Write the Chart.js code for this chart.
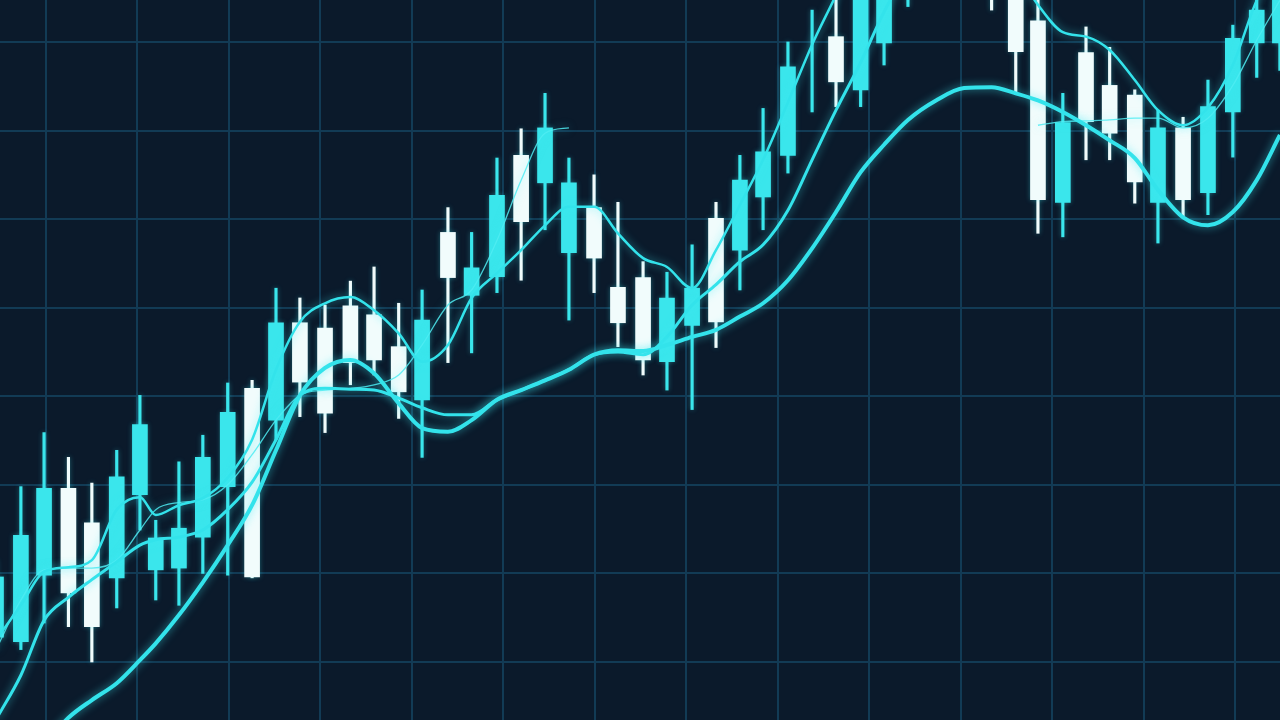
<!DOCTYPE html>
<html>
<head>
<meta charset="utf-8">
<script src="https://cdn.jsdelivr.net/npm/chart.js@4.4.1/dist/chart.umd.min.js"></script>
<style>
  html, body { margin: 0; padding: 0; background: #0b1a2b; overflow: hidden; }
  canvas { display: block; }
</style>
</head>
<body>
<canvas id="c" width="1280" height="720"></canvas>
<script>
// ---- data ----
const times = [-2.05, -1.03, -0.08, 0.92, 1.88, 2.90, 3.85, 4.50, 5.45, 6.43,
  7.45, 8.45, 9.43, 10.41, 11.44, 12.48, 13.45, 14.46, 15.42, 16.48,
  17.45, 18.49, 19.48, 20.46, 21.44, 22.47, 23.45, 24.48, 25.46, 26.49,
  27.47, 28.45, 29.40, 30.42, 31.41, 32.39, 33.40, 34.36, 35.34, 36.49,
  37.64, 38.77, 39.76, 40.67, 41.69, 42.64, 43.61, 44.64, 45.59, 46.62,
  47.64, 48.66, 49.64, 50.59];

const open = [112.8, 112.3, 119.8, 129.6, 125.7, 119.5, 128.9, 120.4, 120.6, 124.1,
  129.8, 140.9, 137.3, 148.3, 147.7, 150.2, 149.2, 145.6, 139.6, 158.5,
  151.4, 153.5, 167.2, 164.1, 156.2, 161.3, 152.3, 153.4, 143.9, 148.0,
  160.1, 156.5, 162.5, 167.2, 179.1, 180.6, 174.6, 179.9, 187.0, 194.9,
  191.5, 192.6, 189.3, 182.4, 161.9, 178.8, 175.1, 174.0, 161.9, 170.3,
  163.0, 172.1, 179.9, 179.9];

const high = [121.5, 129.8, 135.9, 133.1, 130.2, 133.9, 140.1, 126.0, 132.6, 135.6,
  141.5, 141.8, 152.2, 151.1, 150.3, 153.0, 154.6, 150.5, 152.0, 161.3,
  158.5, 166.9, 170.2, 174.2, 166.9, 165.0, 161.9, 155.2, 154.0, 157.1,
  161.9, 167.2, 172.5, 180.0, 183.6, 185.9, 189.3, 190.4, 196.0, 197.2,
  198.3, 194.9, 191.5, 185.9, 174.2, 181.7, 179.4, 174.6, 172.3, 171.5,
  175.7, 181.9, 187.0, 190.4];

const low = [111.4, 111.4, 114.4, 114.0, 110.0, 116.1, 124.9, 117.0, 116.4, 120.0,
  119.8, 119.5, 135.1, 137.7, 135.9, 141.3, 142.4, 137.5, 133.1, 143.8,
  144.9, 151.7, 153.1, 158.8, 148.6, 151.7, 145.6, 142.4, 140.7, 138.5,
  145.5, 152.0, 158.8, 165.2, 172.1, 172.7, 172.7, 177.4, 184.0, 188.1,
  188.7, 183.6, 174.2, 158.4, 158.0, 166.7, 166.7, 161.8, 157.3, 160.2,
  160.5, 167.0, 176.0, 176.8];

const close = [119.6, 124.3, 129.6, 117.8, 114.0, 130.9, 136.8, 124.0, 125.1, 133.1,
  138.2, 119.6, 148.3, 141.6, 138.1, 143.8, 144.1, 140.5, 148.6, 153.4,
  154.5, 162.7, 159.7, 170.3, 164.1, 155.6, 148.3, 144.1, 151.1, 152.2,
  148.4, 164.4, 167.6, 177.2, 179.1, 175.5, 187.0, 188.1, 193.8, 190.4,
  196.0, 187.0, 178.9, 162.2, 170.9, 171.0, 169.7, 164.2, 170.3, 162.2,
  172.7, 180.4, 183.6, 188.1];

// moving-average style lines
const maSlow = [94.4, 97.2, 100.6, 103.7, 105.7, 107.6, 110.2, 112.1, 115.3, 119.0,
  123.2, 127.7, 133.9, 140.1, 143.2, 144.1, 142.6, 139.2, 136.4, 136.0,
  137.3, 139.6, 140.7, 141.8, 143.0, 144.7, 145.2, 145.1, 145.8, 146.7,
  147.5, 149.0, 150.5, 153.1, 156.7, 160.8, 165.3, 168.4, 171.2, 173.4,
  174.8, 174.9, 174.2, 173.4, 172.1, 170.6, 168.9, 166.9, 163.3, 160.2,
  159.3, 160.8, 164.4, 169.5];

const maMid = [103.5, 108.5, 114.7, 117.3, 119.3, 121.3, 123.2, 123.8, 124.1, 124.9,
  127.2, 130.3, 135.1, 140.1, 140.9, 140.8, 140.7, 139.8, 138.7, 137.9,
  137.9, 139.6, 140.7, 141.8, 143.0, 144.7, 145.0, 144.7, 146.7, 150.3,
  152.6, 155.2, 157.1, 161.0, 166.7, 172.3, 177.7, 183.4, 188.1, 191.5,
  193.8, 194.9, 194.9, 194.3, 193.8, 193.2, 192.6, 192.1, 191.5, 190.9,
  190.9, 191.5, 192.6, 193.8];

const maFast = [112.5, 116.4, 120.2, 120.7, 121.5, 127.2, 128.6, 126.6, 127.7, 128.5,
  130.8, 135.1, 143.0, 148.4, 150.5, 151.2, 149.7, 147.1, 143.9, 145.8,
  151.1, 153.9, 156.5, 159.3, 161.4, 161.4, 158.4, 155.6, 154.6, 152.2,
  156.5, 161.6, 166.7, 173.2, 179.7, 185.3, 191.5, 194.9, 197.2, 197.2,
  196.0, 192.6, 188.1, 184.2, 181.1, 180.6, 179.1, 175.7, 172.3, 170.6,
  172.6, 177.4, 184.7, 189.3];

const maThin = [111.4, 117.0, 120.4, 120.6, 120.6, 121.5, 124.9, 127.2, 128.0, 128.3,
  130.0, 133.4, 137.3, 140.1, 140.7, 140.9, 141.3, 142.4, 145.8, 150.3,
  152.0, 157.6, 164.4, 169.7, 170.3, null, null, null, null, null,
  null, null, null, null, null, null, null, null, null, null,
  null, null, null, 170.6, 171.0, 171.1, 171.2, 171.4, 171.4, 170.3,
  171.4, 175.1, 180.2, 184.7];

// ---- view / style ----
const X_MIN = -1.886, X_MAX = 50.594, X_STEP = 3.75;
const Y_MIN = 103.45, Y_MAX = 184.74, Y_STEP = 10;
const CYAN = '#3ae6ec';
const WHITE = '#f1fcfc';
const LINE = '#33e3eb';
const GRID = '#123b55';
const BG = '#0b1a2b';

const upColor = (i) => (close[i] >= open[i] ? CYAN : WHITE);
const pts = (arr) => times.map((t, i) => ({ x: t, y: arr[i] }));

const bgPlugin = {
  id: 'bg',
  beforeDraw(chart) {
    const c = chart.ctx;
    c.save();
    c.fillStyle = BG;
    c.fillRect(0, 0, chart.width, chart.height);
    c.restore();
  }
};
const glowPlugin = {
  id: 'glow',
  beforeDatasetDraw(chart, args) {
    const ds = chart.data.datasets[args.index];
    const c = chart.ctx;
    c.save();
    c.shadowColor = ds.type === 'line' ? 'rgba(60,235,245,0.6)' : 'rgba(60,235,245,0.35)';
    c.shadowBlur = ds.type === 'line' ? 8 : 5;
  },
  afterDatasetDraw(chart) {
    chart.ctx.restore();
  }
};

function gridTicks(min, max, step) {
  const out = [];
  for (let v = Math.ceil(min / step) * step; v <= max; v += step) out.push({ value: +v.toFixed(4) });
  return out;
}

const lineBase = { type: 'line', pointRadius: 0, borderColor: LINE, fill: false,
  cubicInterpolationMode: 'monotone', spanGaps: false, order: 0 };

new Chart(document.getElementById('c'), {
  type: 'bar',
  data: {
    datasets: [
      { ...lineBase, label: 'MA slow', data: pts(maSlow), borderWidth: 4 },
      { ...lineBase, label: 'MA mid', data: pts(maMid), borderWidth: 3 },
      { ...lineBase, label: 'MA fast', data: pts(maFast), borderWidth: 2.5 },
      { ...lineBase, label: 'MA thin', data: pts(maThin), borderWidth: 1.3, borderColor: 'rgba(80,236,242,0.85)' },
      {
        type: 'bar', label: 'wick', order: 2, grouped: false, barThickness: 2.5,
        data: times.map((t, i) => ({ x: t, y: [low[i], high[i]] })),
        backgroundColor: (ctx) => upColor(ctx.dataIndex), borderWidth: 0
      },
      {
        type: 'bar', label: 'body', order: 1, grouped: false, barThickness: 15,
        data: times.map((t, i) => ({ x: t, y: open[i] === close[i] ? null : [open[i], close[i]] })),
        backgroundColor: (ctx) => upColor(ctx.dataIndex), borderWidth: 0
      }
    ]
  },
  options: {
    responsive: false,
    animation: false,
    events: [],
    layout: { padding: 0 },
    plugins: { legend: { display: false }, tooltip: { enabled: false } },
    scales: {
      x: {
        type: 'linear', min: X_MIN, max: X_MAX, offset: false,
        grid: { color: GRID, lineWidth: 2, drawTicks: false, offset: false },
        border: { display: false },
        ticks: { display: false },
        afterBuildTicks: (s) => { s.ticks = gridTicks(X_MIN, X_MAX, X_STEP); }
      },
      y: {
        type: 'linear', min: Y_MIN, max: Y_MAX,
        grid: { color: GRID, lineWidth: 2, drawTicks: false },
        border: { display: false },
        ticks: { display: false },
        afterBuildTicks: (s) => { s.ticks = gridTicks(Y_MIN, Y_MAX, Y_STEP); }
      }
    }
  },
  plugins: [bgPlugin, glowPlugin]
});
</script>
</body>
</html>
